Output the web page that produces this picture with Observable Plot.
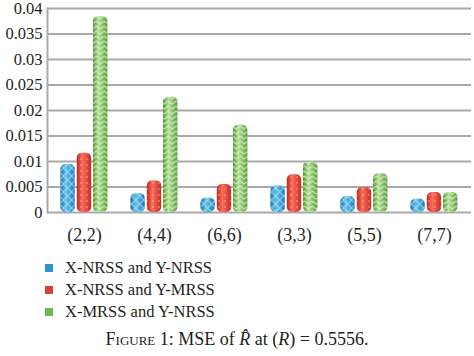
<!DOCTYPE html>
<html>
<head>
<meta charset="utf-8">
<script src="https://cdn.jsdelivr.net/npm/d3@7"></script>
<script src="https://cdn.jsdelivr.net/npm/@observablehq/plot@0.6"></script>
<style>
  html, body { margin: 0; padding: 0; background: #fff; }
  #wrap { width: 474px; font-family: "Liberation Serif", "DejaVu Serif", serif; color: #231f20; }
  g[aria-label="x-axis tick label"] { font-size: 18px; }
  #legend { padding-left: 45px; margin-top: 1px; }
  .row { height: 22px; display: flex; align-items: center; font-size: 16.5px; }
  .sw { width: 8px; height: 8px; margin-right: 12px; }
  #caption { text-align: center; font-size: 18px; margin-top: 6px; }
  .sc { font-variant: small-caps; }
</style>
</head>
<body>
<div id="wrap"></div>
<script>
const categories = ["(2,2)", "(4,4)", "(6,6)", "(3,3)", "(5,5)", "(7,7)"];
const seriesNames = ["X-NRSS and Y-NRSS", "X-NRSS and Y-MRSS", "X-MRSS and Y-NRSS"];
const valuesNN = [0.0094, 0.0037, 0.0028, 0.0052, 0.0031, 0.0026];
const valuesNM = [0.0116, 0.0062, 0.0055, 0.0074, 0.0049, 0.0039];
const valuesMN = [0.0384, 0.0226, 0.0171, 0.0099, 0.0076, 0.0039];
const yTicks = [0, 0.005, 0.01, 0.015, 0.02, 0.025, 0.03, 0.035, 0.04];
const yTickLabels = ["0", "0.005", "0.01", "0.015", "0.02", "0.025", "0.03", "0.035", "0.04"];
const swatchColors = ["#2f93cc", "#dc3d36", "#72b552"];

const seriesValues = [valuesNN, valuesNM, valuesMN];
const offsets = [-16.4, 0, 16.2];
const inset = 27.8;

const marks = [
  Plot.ruleY(yTicks, {stroke: "#a9a9a9", strokeWidth: 2}),
  Plot.frame({anchor: "left", stroke: "#a9a9a9", strokeWidth: 2})
];
seriesValues.forEach((vals, k) => {
  const data = categories.map((c, i) => ({category: c, value: vals[i], series: seriesNames[k]}));
  marks.push(Plot.barY(data, {x: "category", y: "value", fill: `url(#grad${k})`, insetLeft: inset, insetRight: inset, dx: offsets[k], rx: 5, ry: 5}));
  marks.push(Plot.barY(data, {x: "category", y: "value", fill: `url(#pat${k})`, insetLeft: inset, insetRight: inset, dx: offsets[k], rx: 5, ry: 5}));
});

const chart = Plot.plot({
  width: 474,
  height: 256,
  marginTop: 8,
  marginBottom: 44,
  marginLeft: 47,
  marginRight: 3,
  style: {fontFamily: "'Liberation Serif', 'DejaVu Serif', serif", fontSize: "16.5px", color: "#231f20", background: "#fff"},
  x: {domain: categories, padding: 0, tickSize: 0, tickPadding: 16, label: null},
  y: {domain: [0, 0.04], ticks: yTicks, tickFormat: d => yTickLabels[yTicks.indexOf(d)], tickSize: 0, tickPadding: 5, label: null},
  marks
});

// defs: cylinder gradients and surface patterns
const defs = d3.select(chart).insert("defs", ":first-child");
const grads = [
  ["#136aa3", "#5cc2ee", "#1a77b3"],
  ["#b8241f", "#ff6e5e", "#c22d27"],
  ["#4f8f35", "#b5e297", "#5a9c3f"]
];
grads.forEach((g, k) => {
  const lg = defs.append("linearGradient").attr("id", `grad${k}`).attr("x1", 0).attr("x2", 1).attr("y1", 0).attr("y2", 0);
  lg.append("stop").attr("offset", "0%").attr("stop-color", g[0]);
  lg.append("stop").attr("offset", "38%").attr("stop-color", g[1]);
  lg.append("stop").attr("offset", "100%").attr("stop-color", g[2]);
});
const p0 = defs.append("pattern").attr("id", "pat0").attr("patternUnits", "userSpaceOnUse").attr("width", 8).attr("height", 8);
p0.append("path").attr("d", "M0,0 L8,8 M8,0 L0,8").attr("stroke", "rgba(210,245,255,0.55)").attr("stroke-width", 1.3).attr("fill", "none");
const p1 = defs.append("pattern").attr("id", "pat1").attr("patternUnits", "userSpaceOnUse").attr("width", 6).attr("height", 6);
p1.append("circle").attr("cx", 3).attr("cy", 3).attr("r", 0.8).attr("fill", "rgba(255,210,160,0.7)");
const p2 = defs.append("pattern").attr("id", "pat2").attr("patternUnits", "userSpaceOnUse").attr("width", 8).attr("height", 5);
p2.append("path").attr("d", "M0,1 L4,4 L8,1").attr("stroke", "rgba(225,248,205,0.7)").attr("stroke-width", 1.1).attr("fill", "none");

const wrap = document.getElementById("wrap");
wrap.appendChild(chart);

const legend = document.createElement("div");
legend.id = "legend";
seriesNames.forEach((name, k) => {
  const row = document.createElement("div");
  row.className = "row";
  const sw = document.createElement("span");
  sw.className = "sw";
  sw.style.background = swatchColors[k];
  const tx = document.createElement("span");
  tx.textContent = name;
  row.appendChild(sw);
  row.appendChild(tx);
  legend.appendChild(row);
});
wrap.appendChild(legend);

const caption = document.createElement("div");
caption.id = "caption";
caption.innerHTML = '<span class="sc">Figure</span> 1: MSE of <i>R&#770;</i> at (<i>R</i>) = 0.5556.';
wrap.appendChild(caption);
</script>
</body>
</html>
